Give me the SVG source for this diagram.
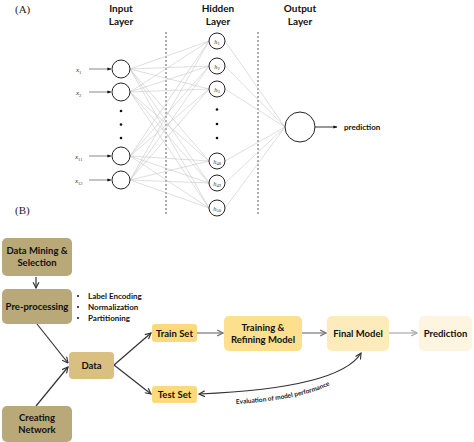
<svg xmlns="http://www.w3.org/2000/svg" width="474" height="442" viewBox="0 0 474 442">
<defs>
<style>
.hd{font-family:Lato,"Liberation Sans",sans-serif;font-weight:bold;font-size:10px;fill:#111;text-anchor:middle}
.bx{font-family:Lato,"Liberation Sans",sans-serif;font-weight:bold;font-size:9.5px;fill:#111;text-anchor:middle}
.sm{font-family:Lato,"Liberation Sans",sans-serif;font-weight:bold;font-size:8px;fill:#111}
.lab{font-family:"Liberation Serif",serif;font-size:11px;fill:#222}
.var{font-family:"Liberation Serif",serif;font-style:italic;font-size:7px;fill:#333}
.hv{font-family:"Liberation Serif",serif;font-style:italic;font-size:6.5px;fill:#333;text-anchor:middle}
.sub{font-size:4.5px;font-style:normal}
.node{fill:#fff;stroke:#222;stroke-width:1}
.w{stroke:#c8c8c8;stroke-width:0.6;fill:none}
.dash{stroke:#333;stroke-width:0.8;stroke-dasharray:2,2}
.dot{fill:#111}
.ar{stroke:#333;stroke-width:1.2;fill:none}
</style>
<marker id="ah" viewBox="0 0 10 10" refX="9" refY="5" markerWidth="6" markerHeight="6" orient="auto-start-reverse"><path d="M1,1 L9,5 L1,9" fill="none" stroke="#333" stroke-width="1.6"/></marker>
<marker id="ahg" viewBox="0 0 10 10" refX="9" refY="5" markerWidth="6" markerHeight="6" orient="auto"><path d="M1,1 L9,5 L1,9" fill="none" stroke="#777" stroke-width="1.6"/></marker>
<marker id="ahl" viewBox="0 0 10 10" refX="9" refY="5" markerWidth="6" markerHeight="6" orient="auto"><path d="M1,1 L9,5 L1,9" fill="none" stroke="#aaa" stroke-width="1.6"/></marker>
<marker id="tri" viewBox="0 0 10 10" refX="9" refY="5" markerWidth="4" markerHeight="4" orient="auto"><path d="M0,1 L10,5 L0,9 Z" fill="#111"/></marker>
</defs>
<rect width="474" height="442" fill="#fff"/>

<text class="lab" x="15" y="13">(A)</text>
<text class="lab" x="15" y="214">(B)</text>

<g id="headers">
<text class="hd" x="121" y="12">Input</text><text class="hd" x="121" y="25">Layer</text>
<text class="hd" x="218" y="12">Hidden</text><text class="hd" x="218" y="25">Layer</text>
<text class="hd" x="300" y="12">Output</text><text class="hd" x="300" y="25">Layer</text>
</g>

<g id="connectors-A">
<line class="dash" x1="166" y1="32" x2="166" y2="214"/>
<line class="dash" x1="258" y1="32" x2="258" y2="214"/>
<g class="w">
<path d="M130,69L209,41M130,69L209,66M130,69L209,89M130,69L209,161M130,69L209,183M130,69L209,208
M130,92L209,41M130,92L209,66M130,92L209,89M130,92L209,161M130,92L209,183M130,92L209,208
M130,156L209,41M130,156L209,66M130,156L209,89M130,156L209,161M130,156L209,183M130,156L209,208
M130,180L209,41M130,180L209,66M130,180L209,89M130,180L209,161M130,180L209,183M130,180L209,208
M225,41L285,127M225,66L285,127M225,89L285,127M225,161L285,127M225,183L285,127M225,208L285,127"/>
</g>
<g stroke="#888" stroke-width="1">
<line x1="89" y1="69" x2="111" y2="69" marker-end="url(#tri)"/>
<line x1="89" y1="92" x2="111" y2="92" marker-end="url(#tri)"/>
<line x1="89" y1="156" x2="111" y2="156" marker-end="url(#tri)"/>
<line x1="89" y1="180" x2="111" y2="180" marker-end="url(#tri)"/>
</g>
<line x1="315" y1="127" x2="337" y2="127" stroke="#333" stroke-width="1" marker-end="url(#tri)"/>
</g>

<g id="inputs">
<text class="var" x="76" y="72">x<tspan class="sub" dy="1.5">1</tspan></text>
<text class="var" x="76" y="95">x<tspan class="sub" dy="1.5">2</tspan></text>
<text class="var" x="75" y="159">x<tspan class="sub" dy="1.5">11</tspan></text>
<text class="var" x="75" y="183">x<tspan class="sub" dy="1.5">12</tspan></text>
<circle class="node" cx="121" cy="69" r="9"/>
<circle class="node" cx="121" cy="92" r="9"/>
<circle class="node" cx="121" cy="156" r="9"/>
<circle class="node" cx="121" cy="180" r="9"/>
<circle class="dot" cx="121" cy="111" r="1.3"/>
<circle class="dot" cx="121" cy="124.5" r="1.3"/>
<circle class="dot" cx="121" cy="138" r="1.3"/>
</g>

<g id="hidden">
<circle class="node" cx="217" cy="41" r="8"/><text class="hv" x="217" y="43.5">h<tspan class="sub" dy="1">1</tspan></text>
<circle class="node" cx="217" cy="66" r="8"/><text class="hv" x="217" y="68.5">h<tspan class="sub" dy="1">2</tspan></text>
<circle class="node" cx="217" cy="89" r="8"/><text class="hv" x="217" y="91.5">h<tspan class="sub" dy="1">3</tspan></text>
<circle class="node" cx="217" cy="161" r="8"/><text class="hv" x="217" y="163.5">h<tspan class="sub" dy="1">48</tspan></text>
<circle class="node" cx="217" cy="183" r="8"/><text class="hv" x="217" y="185.5">h<tspan class="sub" dy="1">49</tspan></text>
<circle class="node" cx="217" cy="208" r="8"/><text class="hv" x="217" y="210.5">h<tspan class="sub" dy="1">50</tspan></text>
<circle class="dot" cx="217" cy="109.5" r="1.3"/>
<circle class="dot" cx="217" cy="124" r="1.3"/>
<circle class="dot" cx="217" cy="138" r="1.3"/>
</g>

<g id="output">
<circle class="node" cx="300" cy="127" r="15"/>
<text class="sm" x="344" y="130">prediction</text>
</g>

<g id="connectors-B">
<line class="ar" x1="36" y1="277" x2="36" y2="288" marker-end="url(#ah)"/>
<line class="ar" x1="37" y1="324" x2="68" y2="363" marker-end="url(#ah)"/>
<line class="ar" x1="36" y1="406" x2="68" y2="367" marker-end="url(#ah)"/>
<line class="ar" x1="114" y1="365" x2="151" y2="333" marker-end="url(#ah)"/>
<line class="ar" x1="114" y1="365" x2="151" y2="394" marker-end="url(#ah)"/>
<line x1="197" y1="333" x2="223" y2="333" stroke="#777" stroke-width="1.2" marker-end="url(#ahg)"/>
<line x1="302" y1="333" x2="326" y2="333" stroke="#777" stroke-width="1.2" marker-end="url(#ahg)"/>
<line x1="389" y1="333" x2="417" y2="333" stroke="#aaa" stroke-width="1.2" marker-end="url(#ahl)"/>
<path class="ar" d="M199,394 Q340,388 361,353" marker-start="url(#ah)" marker-end="url(#ah)"/>
<path id="evp" d="M236,404 Q322,399 349,372" fill="none"/>
<text font-family="Lato,'Liberation Sans',sans-serif" font-weight="bold" font-size="6.5" fill="#222"><textPath href="#evp">Evaluation of model performance</textPath></text>
</g>

<g id="n-datamining">
<rect x="2" y="238" width="70" height="38" rx="5" fill="#b9a878"/>
<text class="bx" x="37" y="254">Data Mining &amp;</text>
<text class="bx" x="37" y="266">Selection</text>
</g>
<g id="n-preprocessing">
<rect x="2" y="289" width="70" height="35" rx="5" fill="#b9a878"/>
<text class="bx" x="37" y="310">Pre-processing</text>
</g>
<g id="n-bullets">
<circle class="dot" cx="78" cy="296" r="1"/><text class="sm" x="88" y="299">Label Encoding</text>
<circle class="dot" cx="78" cy="307" r="1"/><text class="sm" x="88" y="310">Normalization</text>
<circle class="dot" cx="78" cy="318" r="1"/><text class="sm" x="88" y="321">Partitioning</text>
</g>
<g id="n-data">
<rect x="69" y="352" width="45" height="27" rx="4" fill="#d9bf80"/>
<text class="bx" x="91.5" y="369">Data</text>
</g>
<g id="n-creating">
<rect x="2" y="406" width="70" height="36" rx="5" fill="#b9a878"/>
<text class="bx" x="37" y="421">Creating</text>
<text class="bx" x="37" y="433">Network</text>
</g>
<g id="n-train">
<rect x="152" y="324" width="45" height="18" rx="3" fill="#fcd97a"/>
<text class="bx" x="174.5" y="336.5">Train Set</text>
</g>
<g id="n-test">
<rect x="152" y="386" width="45" height="17" rx="3" fill="#fcd97a"/>
<text class="bx" x="174.5" y="398">Test Set</text>
</g>
<g id="n-training">
<rect x="224" y="316" width="78" height="35" rx="5" fill="#fce08e"/>
<text class="bx" x="263" y="331">Training &amp;</text>
<text class="bx" x="263" y="343">Refining Model</text>
</g>
<g id="n-final">
<rect x="327" y="316" width="62" height="35" rx="5" fill="#fdebbc"/>
<text class="bx" x="358" y="337">Final Model</text>
</g>
<g id="n-prediction">
<rect x="419" y="316" width="53" height="35" rx="5" fill="#fef5e0"/>
<text class="bx" x="445.5" y="337">Prediction</text>
</g>
</svg>
